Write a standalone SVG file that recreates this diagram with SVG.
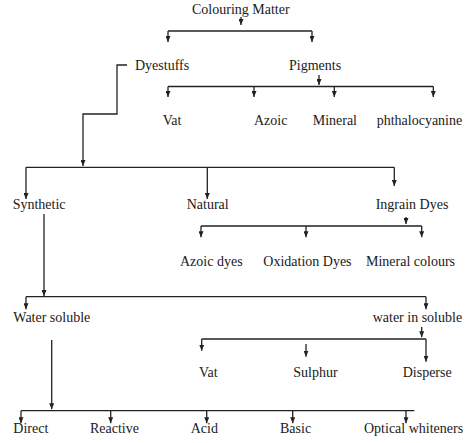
<svg xmlns="http://www.w3.org/2000/svg" width="474" height="443" viewBox="0 0 474 443">
<style>
text{font-family:"Liberation Serif","Times New Roman",serif;font-size:14px;fill:#1a1a1a}
.c line,.c path{stroke:#222;stroke-width:1.3;fill:none}
.a{marker-end:url(#ah)}
</style>
<defs>
<marker id="ah" viewBox="0 0 6 5" refX="6" refY="2.5" markerWidth="6" markerHeight="5" orient="auto" markerUnits="userSpaceOnUse"><path d="M0,0 L6,2.5 L0,5 z" fill="#222"/></marker>
</defs>
<rect width="474" height="443" fill="#fff"/>
<g id="connectors" class="c">
<line class="a" x1="241" y1="17" x2="241" y2="25"/>
<line x1="168" y1="31" x2="312" y2="31"/>
<line class="a" x1="168" y1="31" x2="168" y2="42"/>
<line class="a" x1="312" y1="31" x2="312" y2="42"/>
<path class="a" d="M127,65 H117 V114 H83 V166"/>
<line class="a" x1="319" y1="75" x2="319" y2="85"/>
<line x1="168" y1="86.5" x2="433.3" y2="86.5"/>
<line class="a" x1="168" y1="86.5" x2="168" y2="97"/>
<line class="a" x1="254" y1="86.5" x2="254" y2="97"/>
<line class="a" x1="334.3" y1="86.5" x2="334.3" y2="97"/>
<line class="a" x1="433.3" y1="86.5" x2="433.3" y2="97"/>
<line x1="26" y1="167.3" x2="394.3" y2="167.3"/>
<line class="a" x1="26" y1="167.3" x2="26" y2="199"/>
<line class="a" x1="207.3" y1="167.3" x2="207.3" y2="199"/>
<line class="a" x1="394.3" y1="167.3" x2="394.3" y2="186"/>
<line class="a" x1="406" y1="217" x2="406" y2="224"/>
<line x1="201" y1="226" x2="421.7" y2="226"/>
<line class="a" x1="201" y1="226" x2="201" y2="237.3"/>
<line class="a" x1="306" y1="226" x2="306" y2="237.3"/>
<line class="a" x1="421.7" y1="226" x2="421.7" y2="237.3"/>
<line class="a" x1="44" y1="214" x2="44" y2="296"/>
<line x1="26" y1="296.7" x2="426" y2="296.7"/>
<line class="a" x1="26" y1="296.7" x2="26" y2="309.3"/>
<line class="a" x1="426" y1="296.7" x2="426" y2="309.3"/>
<line class="a" x1="421.7" y1="327" x2="421.7" y2="337.3"/>
<line x1="201.7" y1="339" x2="426" y2="339"/>
<line class="a" x1="201.7" y1="339" x2="201.7" y2="350.7"/>
<line class="a" x1="426" y1="339" x2="426" y2="361.7"/>
<line class="a" x1="306" y1="344" x2="306" y2="356.7"/>
<line class="a" x1="51.7" y1="340" x2="51.7" y2="409.3"/>
<line x1="21" y1="410.7" x2="414.3" y2="410.7"/>
<line class="a" x1="21" y1="410.7" x2="21" y2="423.3"/>
<line class="a" x1="110.7" y1="410.7" x2="110.7" y2="423.3"/>
<line class="a" x1="206.7" y1="410.7" x2="206.7" y2="423.3"/>
<line class="a" x1="292.7" y1="410.7" x2="292.7" y2="423.3"/>
<line class="a" x1="406" y1="410.7" x2="406" y2="423.3"/>
</g>
<g id="colouring-matter"><text x="192" y="13.5">Colouring Matter</text></g>
<g id="dyestuffs"><text x="135" y="69.5">Dyestuffs</text></g>
<g id="pigments"><text x="289" y="70">Pigments</text></g>
<g id="pig-vat"><text x="162.7" y="125">Vat</text></g>
<g id="pig-azoic"><text x="254" y="125">Azoic</text></g>
<g id="pig-mineral"><text x="312.7" y="125">Mineral</text></g>
<g id="pig-phthalocyanine"><text x="376.7" y="125">phthalocyanine</text></g>
<g id="synthetic"><text x="12.7" y="209.3">Synthetic</text></g>
<g id="natural"><text x="186.7" y="209.3">Natural</text></g>
<g id="ingrain-dyes"><text x="375.7" y="209.3">Ingrain Dyes</text></g>
<g id="azoic-dyes"><text x="180" y="266">Azoic dyes</text></g>
<g id="oxidation-dyes"><text x="263.3" y="266">Oxidation Dyes</text></g>
<g id="mineral-colours"><text x="366" y="266">Mineral colours</text></g>
<g id="water-soluble"><text x="13.3" y="321.7">Water soluble</text></g>
<g id="water-insoluble"><text x="372.7" y="321.7">water in soluble</text></g>
<g id="ins-vat"><text x="199" y="377.3">Vat</text></g>
<g id="ins-sulphur"><text x="293.3" y="377.3">Sulphur</text></g>
<g id="ins-disperse"><text x="402.7" y="377.3">Disperse</text></g>
<g id="direct"><text x="13.3" y="433.3">Direct</text></g>
<g id="reactive"><text x="90" y="433.3">Reactive</text></g>
<g id="acid"><text x="190.7" y="433.3">Acid</text></g>
<g id="basic"><text x="280" y="433.3">Basic</text></g>
<g id="optical-whiteners"><text x="364" y="433.3">Optical whiteners</text></g>
</svg>
